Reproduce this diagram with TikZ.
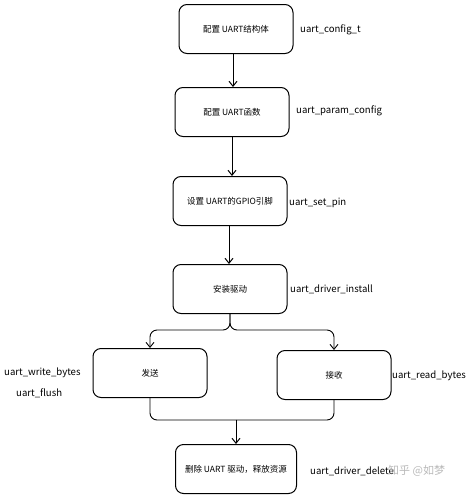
\documentclass[tikz,border=0pt]{standalone}
\usepackage{fontspec}
\setmainfont{Noto Sans CJK SC}
\usetikzlibrary{arrows.meta}

\begin{document}
\begin{tikzpicture}
[x=1pt,y=-1pt,
stepbox/.style={draw,rounded corners=8pt,line width=1pt,minimum width=114pt,
  minimum height=49pt,inner sep=2pt,font=\fontsize{8.5}{10}\selectfont},
api/.style={anchor=west,inner sep=0pt,font=\fontsize{9.6}{11}\selectfont},
arr/.style={-{Straight Barb[length=5pt,width=8pt]},line width=1pt},
link/.style={line width=0.9pt,rounded corners=7pt}]
\useasboundingbox (0,0) rectangle (474,499);
% main chain
\node [stepbox] (cfg) at (236,29) {配置 UART结构体};
\node [stepbox] (param) at (232,112) {配置 UART函数};
\node [stepbox] (pin) at (230,201) {设置 UART的GPIO引脚};
\node [stepbox] (install) at (230,289) {安装驱动};
\node [stepbox] (send) at (150,373) {发送};
\node [stepbox] (recv) at (334,375) {接收};
\node [stepbox,minimum width=121pt] (delete) at (236,469) {删除 UART 驱动，释放资源};
% api names
\node [api] (cfgapi) at (300,30) {uart\_config\_t};
\node [api] (paramapi) at (296,111) {uart\_param\_config};
\node [api] (pinapi) at (289,203) {uart\_set\_pin};
\node [api] (installapi) at (290,289) {uart\_driver\_install};
\node [api] (writeapi) at (4,373) {uart\_write\_bytes};
\node [api] (flushapi) at (16,393) {uart\_flush};
\node [api] (readapi) at (392,376) {uart\_read\_bytes};
\node [api] (deleteapi) at (310,471) {uart\_driver\_delete};
\node [api,text=gray!55,font=\fontsize{11}{12}\selectfont] (mark) at (388,471) {知乎 @如梦};
% connectors
\draw [arr] (cfg.south -| 233,0) -- (param.north -| 233,0);
\draw [arr] (param.south -| 232,0) -- (pin.north -| 232,0);
\draw [arr] (pin.south -| 229,0) -- (install.north -| 229,0);
\coordinate (split) at (230,330);
\coordinate (merge) at (236,420);
\draw [arr,link] (install.south) -- (split) -| (send.north);
\draw [arr,link] (install.south) -- (split) -| (recv.north);
\draw [link] (send.south) |- (merge);
\draw [link] (recv.south) |- (merge);
\draw [arr] (merge) -- (delete.north);
\end{tikzpicture}
\end{document}
